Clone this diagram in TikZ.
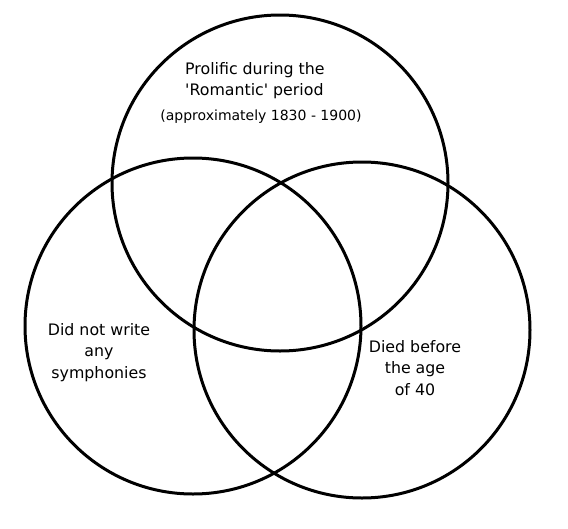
\documentclass[tikz,border=0pt]{standalone}
\usepackage{fontspec}
\setmainfont{DejaVu Sans}
\begin{document}
\begin{tikzpicture}[
  x=1pt, y=-1pt,
  set_circle/.style={circle, draw, line width=3pt, inner sep=0pt,
    minimum size=336pt},
  label_big/.style={inner sep=0pt, align=center,
    font=\fontsize{15.8}{21.5}\selectfont},
  label_small/.style={inner sep=0pt, font=\fontsize{14}{17}\selectfont}
  ]
\useasboundingbox (0,0) rectangle (568,528);

\node [set_circle] (romantic) at (280,183) {};
\node [set_circle] (nosym) at (193,326) {};
\node [set_circle] (young) at (362,330) {};

\node [label_big, anchor=north west, align=left] (romantic_txt) at (185,62)
  {Prolific during the\\\textquotesingle Romantic\textquotesingle{} period};
\node [label_small, anchor=north] (period_txt) at (261,109.5)
  {(approximately 1830 - 1900)};
\node [label_big, anchor=north] (nosym_txt) at (99,323)
  {Did not write\\any\\symphonies};
\node [label_big, anchor=north] (young_txt) at (415,340)
  {Died before\\the age\\of 40};

\end{tikzpicture}
\end{document}
